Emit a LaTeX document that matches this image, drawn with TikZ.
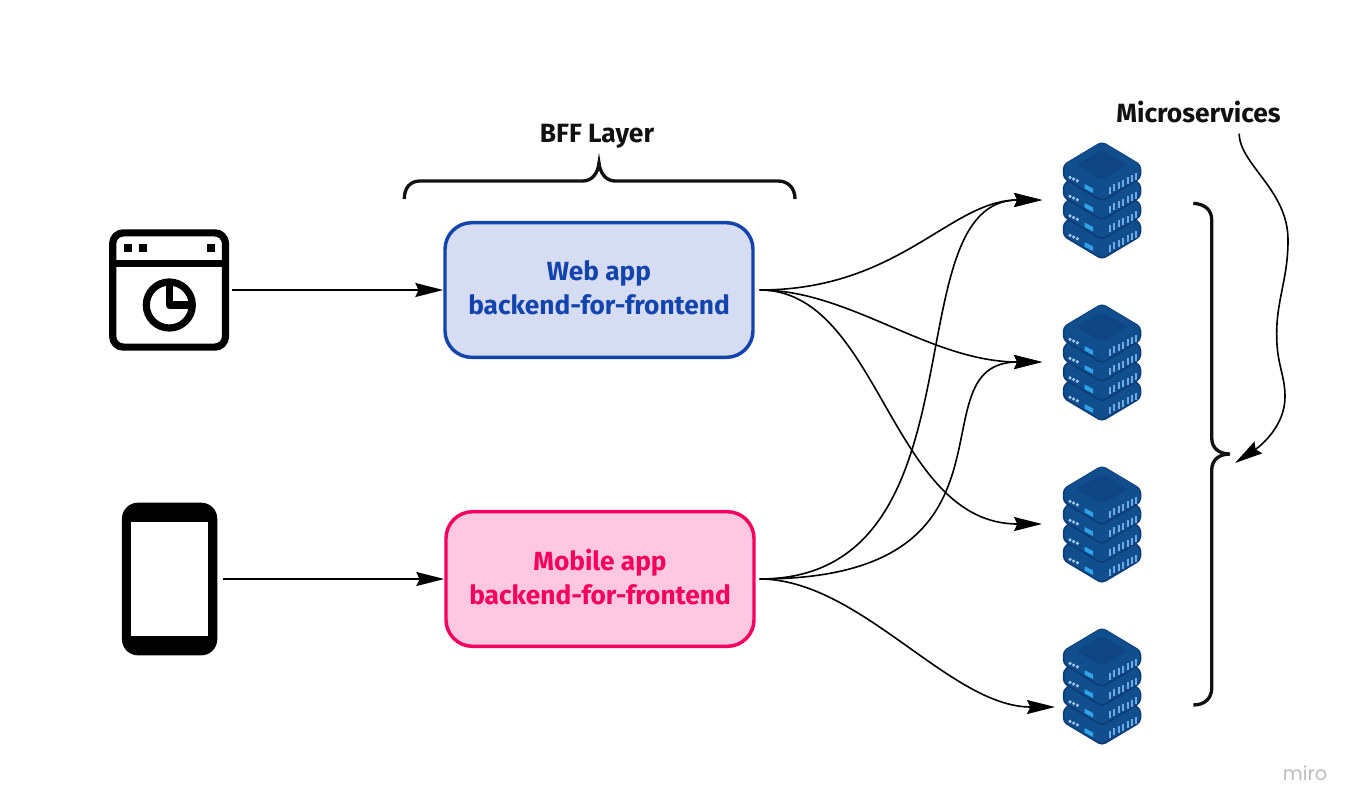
\documentclass[tikz,border=0pt]{standalone}
\usepackage{fontspec}
\setmainfont{Fira Sans}
\newfontfamily\mirofont{Poppins}
\usepackage{tikz}
\usetikzlibrary{arrows.meta}
\usetikzlibrary{positioning}

\definecolor{webblue}{HTML}{1344AE}
\definecolor{webfill}{HTML}{D6DCF1}
\definecolor{mobpink}{HTML}{F5005F}
\definecolor{mobfill}{HTML}{FFC8E0}
\definecolor{srvside}{HTML}{114E8E}
\definecolor{srvdark}{HTML}{0C3B74}
\definecolor{srvled}{HTML}{2FA4E8}
\definecolor{srvbar}{HTML}{6FA8E2}
\definecolor{inkblack}{HTML}{111111}

\tikzset{
    bffbox/.style={draw, rounded corners=20pt, line width=2.6pt, inner sep=0pt,
        minimum width=231pt, minimum height=101pt, align=center, text depth=3pt,
        font=\fontsize{19.7}{25.5}\selectfont\bfseries},
    title/.style={text=inkblack, inner sep=0pt,
        font=\fontsize{19.8}{23}\selectfont\bfseries},
    flow/.style={draw=black, line width=1.2pt,
        -{Stealth[length=21pt, width=10.5pt, inset=2.5pt]}, shorten <=2pt},
    brace/.style={draw=inkblack, line width=2.5pt},
    server/.pic={
        % slabs, lowest one first
        \foreach \dy in {58,38.5,19,0} {
            \filldraw[draw=srvdark, fill=srvside, line width=1.1pt, rounded corners=3pt]
                (-38.5,\dy) -- (0,\dy-23) -- (38.5,\dy) -- (38.5,\dy+13)
                -- (0,\dy+36) -- (-38.5,\dy+13) -- cycle;
            \fill[srvbar!60!white] (-32,12.3+\dy) circle (1.3pt);
            \fill[srvbar!60!white] (-28.3,14+\dy) circle (1.3pt);
            \fill[srvbar!60!white] (-24.6,15.8+\dy) circle (1.3pt);
            \fill[srvled] (-17.5,19+\dy) -- (-9,23.5+\dy) -- (-9,28+\dy)
                -- (-17.5,23.5+\dy) -- cycle;
            \foreach \b in {0,...,6}
                \draw[srvbar, line width=1.4pt] (8+\b*4.4,21.5-2.3*\b+\dy) -- ++(0,7);
        }
        \fill[srvside, rounded corners=3pt] (-38.5,0) -- (0,-23) -- (38.5,0) -- (0,23) -- cycle;
        \fill[srvdark!45!srvside, rounded corners=3pt] (-26,0) -- (0,-15) -- (26,0) -- (0,15) -- cycle;
    }
}

\begin{document}
\begin{tikzpicture}[x=.75pt, y=-.75pt]

    \useasboundingbox (0,0) rectangle (1358,811);

    % Clients
    \node (browser) [draw=black, line width=5.4pt, rounded corners=8pt, inner sep=0pt,
        minimum width=84.6pt, minimum height=85.7pt, outer sep=4.9pt] at (169.1,290) {};
    \node (phone) [fill=black, rounded corners=12pt, inner sep=0pt,
        minimum width=71.5pt, minimum height=114.5pt, outer sep=4.3pt] at (169.6,579) {};
    \node (screen) [fill=white, inner sep=0pt, minimum width=57.8pt,
        minimum height=85.7pt] at (169.8,579.2) {};

    \draw[black, line width=5.4pt] (browser.center |- 0,263.3) ++(-56.4,0) -- ++(112.8,0);
    \foreach \x in {124,139,207.3}
        \fill[black] (\x,244.3) rectangle ++(7.7,7.7);
    \draw[black, line width=5.4pt] (169.3,305) circle (23);
    \draw[black, line width=5.4pt, line join=round] (169.3,282) -- (169.3,305) -- (192.3,305);

    % BFF boxes
    \node (webbff) [bffbox, draw=webblue, fill=webfill, text=webblue] at (599,290)
    {Web app\\backend-for-frontend};
    \node (mobbff) [bffbox, draw=mobpink, fill=mobfill, text=mobpink] at (600,579)
    {Mobile app\\backend-for-frontend};

    \node (bfflabel) [title] at (597,136) {BFF Layer};
    \node (msvclabel) [title] at (1198.5,112) {Microservices};
    \node (miro) [text=black!26!white, inner sep=0pt,
        font=\fontsize{14.5}{14.5}\mirofont] at (1305,773) {miro};

    % Scope used to place the servers and the arrow ends
    \begin{scope}
        \foreach \i/\y in {1/165,2/327,3/489,4/651}
            \pic at (1102,\y) {server};
        \coordinate (in1) at (1042,200);
        \coordinate (in2) at (1042,362);
        \coordinate (in3) at (1042,524);
        \coordinate (in4) at (1055,707);
        \coordinate (webout) at (757,290);
        \coordinate (mobout) at (757,579);
        \coordinate (msvcfrom) at (1239,131);
        \coordinate (msvcto) at (1235,463);
    \end{scope}

    \begin{scope}
        \draw[flow, shorten <=0pt] (browser) -- (webbff);
        \draw[flow, shorten <=0pt] (phone) -- (mobbff);

        \draw[flow] (webout) .. controls (900,290) and (950,200) .. (in1);
        \draw[flow] (webout) .. controls (850,290) and (930,362) .. (in2);
        \draw[flow] (webout) .. controls (880,290) and (890,524) .. (in3);
        \draw[flow] (mobout) .. controls (990,579) and (890,200) .. (in1);
        \draw[flow] (mobout) .. controls (1040,579) and (910,362) .. (in2);
        \draw[flow] (mobout) .. controls (860,579) and (950,707) .. (in4);

        \draw[flow] (msvcfrom) .. controls (1240,165) and (1288,190) .. (1288,240)
            .. controls (1288,280) and (1276,300) .. (1276.7,337)
            .. controls (1277,365) and (1285,375) .. (1285,397)
            .. controls (1285,425) and (1262,445) .. (msvcto);
    \end{scope}

    % Braces
    \draw[brace] (404.3,199) .. controls (404.3,188) and (410,181) .. (420,181)
        -- (583,181) .. controls (592,181) and (598,173) .. (599,163)
        .. controls (600,173) and (606,181) .. (615,181)
        -- (778,181) .. controls (788,181) and (795,188) .. (795,199);
    \draw[brace] (1193.3,203.3) .. controls (1205,204) and (1211.7,210) .. (1211.7,220)
        -- (1211.7,438) .. controls (1211.7,448) and (1219,454) .. (1230,454)
        .. controls (1219,454) and (1211.7,460) .. (1211.7,470)
        -- (1211.7,688) .. controls (1211.7,698) and (1205,705) .. (1193.3,705);

\end{tikzpicture}
\end{document}
